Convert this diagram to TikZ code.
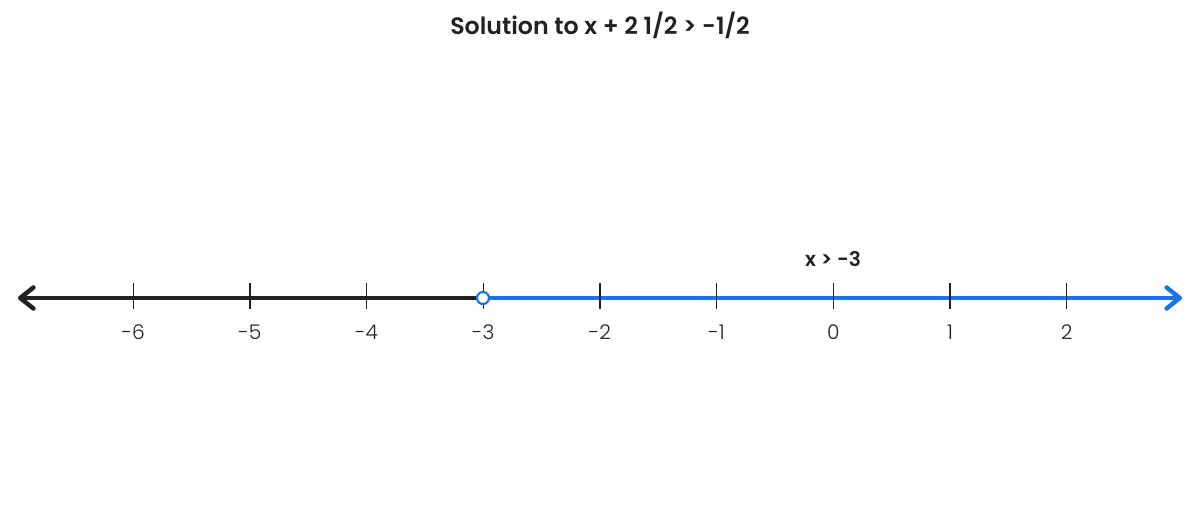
\documentclass[tikz,border=0pt]{standalone}
\usepackage{fontspec}
\setmainfont{Poppins}
\newfontfamily\titlefont{Poppins SemiBold}
\newfontfamily\lightfont{Poppins Light}
\usetikzlibrary{arrows.meta}
\definecolor{axisblack}{HTML}{222222}
\definecolor{solblue}{HTML}{1A73E8}
\begin{document}
\begin{tikzpicture}[x=0.02cm,y=-0.02cm,
  axisline/.style={line width=4.5*0.569pt, line cap=round},
  tickline/.style={line width=1.6*0.569pt, axisblack},
  ticklabel/.style={font=\lightfont\fontsize{11.5}{13}\selectfont, text=axisblack, inner sep=0pt},
  barb/.style={-{Straight Barb[length=7.5pt,width=12pt,line cap=round,round]}}]
\useasboundingbox (0,0) rectangle (1200,530);
\node[font=\titlefont\fontsize{13.5}{16}\selectfont, text=axisblack] (title) at (600,25) {Solution to x + 2 1/2 > -1/2};
\coordinate (lend) at (18,298);
\coordinate (rend) at (1182,298);
\coordinate (open) at (483,298);
\draw[axisline, axisblack, barb] (open) -- (lend);
\draw[axisline, solblue, barb] (open) -- (rend);
\foreach \v [count=\i from 0] in {-6,-5,-4,-3,-2,-1,0,1,2} {
  \pgfmathsetmacro{\xx}{133.3+116.67*\i}
  \coordinate (t\i) at (\xx,298);
  \draw[tickline] (\xx,283) -- (\xx,309);
  \node[ticklabel] (l\i) at (\xx,332) {\v};
}
\draw[solblue, line width=2.2*0.569pt, fill=white] (open) circle (6);
\node[font=\titlefont\fontsize{11.5}{14}\selectfont, text=axisblack] (sol) at (833,259) {x > -3};
\end{tikzpicture}
\end{document}
